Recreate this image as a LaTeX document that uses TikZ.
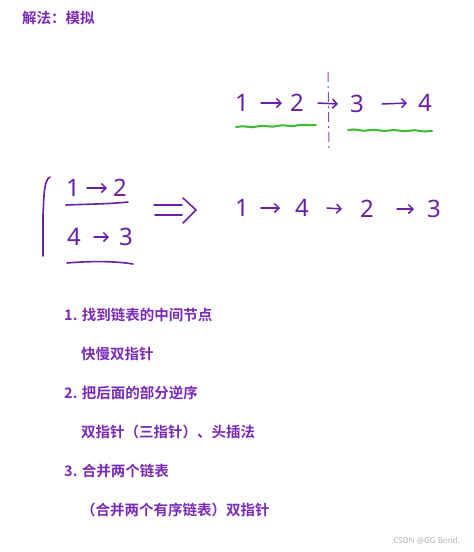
\documentclass[tikz,border=0pt]{standalone}
\usepackage{fontspec}
\setsansfont{Noto Sans}
\newfontfamily\cjkb[BoldFont={Noto Sans CJK SC Bold}]{Noto Sans CJK SC}
\usetikzlibrary{arrows.meta,decorations.pathmorphing}
\definecolor{titlepurple}{HTML}{7A2AB8}
\definecolor{hand}{HTML}{6A1FA8}
\definecolor{handgreen}{HTML}{3DBB35}
\tikzset{
  digit/.style={font=\sffamily\fontsize{24}{24}\selectfont, text=hand, inner sep=0pt},
  listtext/.style={font=\cjkb\bfseries\fontsize{14.5}{16}\selectfont, text=titlepurple, anchor=west, inner sep=0pt},
  harrow/.style={draw=hand, line width=1.5pt, line cap=round, -{Straight Barb[length=4.5pt,width=9pt,line width=1.5pt]}},
  hstroke/.style={draw=hand, line width=1.6pt, line cap=round},
  gstroke/.style={draw=handgreen, line width=2pt, line cap=round, decorate, decoration={snake, amplitude=0.6pt, segment length=20pt}},
}
\begin{document}
\begin{tikzpicture}[x=1pt,y=-1pt]
\useasboundingbox (0,0) rectangle (474,552);
\fill[white] (0,0) rectangle (474,552);

% title
\node[listtext] (title) at (22,18) {解法：模拟};

% top row
\node[digit] (a1) at (242,103) {1};
\node[digit] (a2) at (297,103) {2};
\node[digit] (a3) at (357,104) {3};
\node[digit] (a4) at (425,103) {4};
\draw[harrow] ([xshift=19pt]a1.center) -- ([xshift=-15pt]a2.center);
\draw[harrow] ([xshift=21pt]a2.center) -- ([xshift=-19pt]a3.center);
\draw[harrow] ([xshift=25pt]a3.center) -- ([xshift=-18pt]a4.center);
\coordinate (cutT) at (328,72);
\coordinate (cutB) at (329,150);
\draw[draw=hand!80, line width=1pt, dash pattern=on 10pt off 4pt on 2pt off 4pt] (cutT) -- (cutB);
\coordinate (g1a) at (236,127);
\coordinate (g1b) at (316,125);
\coordinate (g2a) at (348,130);
\coordinate (g2b) at (432,131);
\draw[gstroke] (g1a) -- (g1b);
\draw[gstroke] (g2a) -- (g2b);

% brace
\coordinate (brT) at (50,177);
\coordinate (brB) at (43,256);
\draw[hstroke] (brT) .. controls (44,180) and (44,195) .. (43,215) -- (brB);

% left group
\node[digit] (b1) at (73,188) {1};
\node[digit] (b2) at (120,188) {2};
\draw[harrow] ([xshift=14pt]b1.center) -- ([xshift=-13pt]b2.center);
\coordinate (u1a) at (66,205);
\coordinate (u1b) at (128,202);
\draw[hstroke] (u1a) .. controls (90,204) and (110,204) .. (u1b);
\node[digit] (b4) at (74,237) {4};
\node[digit] (b3) at (126,237) {3};
\draw[harrow] ([xshift=20pt]b4.center) -- ([xshift=-17pt]b3.center);
\coordinate (u2a) at (67,263);
\coordinate (u2b) at (133,264);
\draw[hstroke] (u2a) .. controls (90,261) and (115,261) .. (u2b);

% implies
\coordinate (imA) at (154,205);
\coordinate (imB) at (155,215);
\coordinate (imTip) at (196,210);
\draw[hstroke] (imA) -- (182,205);
\draw[hstroke] (imB) -- (182,215);
\draw[hstroke] (183,198) -- (imTip) -- (183,223);

% right result
\node[digit] (c1) at (242,208) {1};
\node[digit] (c4) at (302,208) {4};
\node[digit] (c2) at (367,209) {2};
\node[digit] (c3) at (434,209) {3};
\draw[harrow] ([xshift=19pt]c1.center) -- ([xshift=-22pt]c4.center);
\draw[harrow] ([xshift=25pt]c4.center) -- ([xshift=-25pt]c2.center);
\draw[harrow] ([xshift=30pt]c2.center) -- ([xshift=-20pt]c3.center);

% list
\node[listtext] (l1) at (64,315) {1. 找到链表的中间节点};
\node[listtext] (l1b) at (81,354) {快慢双指针};
\node[listtext] (l2) at (64,393) {2. 把后面的部分逆序};
\node[listtext] (l2b) at (81,432) {双指针（三指针）、头插法};
\node[listtext] (l3) at (64,471) {3. 合并两个链表};
\node[listtext] (l3b) at (81,510) {（合并两个有序链表）双指针};

% watermark
\node[font=\sffamily\fontsize{8}{8}\selectfont, text=black!30, anchor=east, inner sep=0pt] (wm) at (460,541) {CSDN @GG Bond.};
\end{tikzpicture}
\end{document}
